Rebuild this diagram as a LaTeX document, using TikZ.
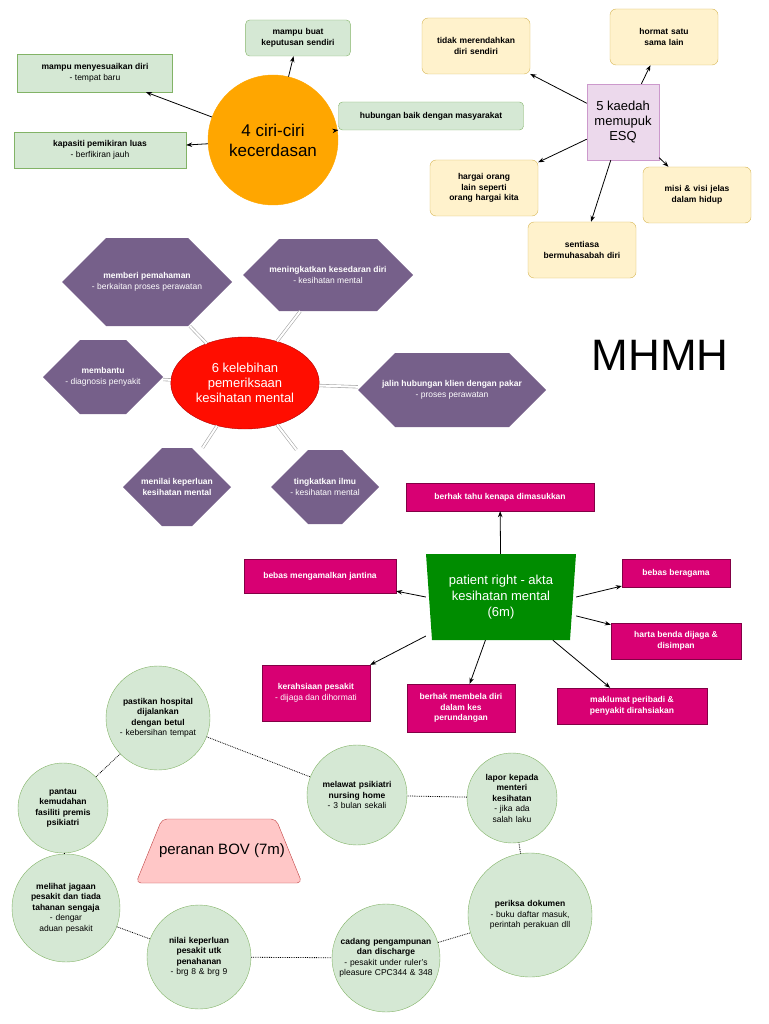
\documentclass[tikz,border=0pt]{standalone}
\usepackage{fontspec}
\setmainfont{Liberation Sans}
\usetikzlibrary{shapes.geometric,arrows.meta}
\definecolor{gf}{HTML}{D5E8D4}\definecolor{gd}{HTML}{82B366}
\definecolor{yf}{HTML}{FFF2CC}\definecolor{yd}{HTML}{D6B656}
\definecolor{hx}{HTML}{76608A}\definecolor{mg}{HTML}{D80073}
\begin{document}
\hyphenpenalty=10000 \exhyphenpenalty=10000
\begin{tikzpicture}[x=1pt,y=-1pt,
 t/.style={font=\fontsize{8.5}{10.5}\selectfont\bfseries,align=center},
 gbox/.style={t,draw=gd,fill=gf,minimum height=#1},
 ybox/.style={t,draw=yd,fill=yf,rounded corners=6pt,minimum width=108,minimum height=56,text width=88},
 mbox/.style={t,fill=mg,text=white,draw=mg!60!black},
 circ/.style={t,circle,draw=gd,fill=gf,inner sep=1pt},
 ar/.style={-{Stealth[length=6pt]},thick},
 dl/.style={double,double distance=2pt,draw=gray!70,line width=.6pt},
 dt/.style={densely dotted,thick}]
\useasboundingbox (0,0) rectangle (768,1024);
\newcommand\hexa[6]{%
 \fill[hx] ({#2-#4/2},#3) -- ({#2-#4/2+#5/2},{#3-#5/2}) -- ({#2+#4/2-#5/2},{#3-#5/2}) -- ({#2+#4/2},#3) -- ({#2+#4/2-#5/2},{#3+#5/2}) -- ({#2-#4/2+#5/2},{#3+#5/2}) -- cycle;
 \node[t,text=white,minimum width=#4,minimum height=#5] (#1) at (#2,#3) {#6};}
% ciri-ciri
\node[circle,fill=orange!70!yellow,draw=orange!70!yellow,minimum size=130,font=\fontsize{17}{20}\selectfont,align=center] (c) at (273,140) {4 ciri-ciri\\kecerdasan};
\node[gbox=36,text width=98,rounded corners=4pt] (g1) at (298,38) {mampu buat\\keputusan sendiri};
\node[gbox=38,minimum width=155] (g2) at (95,73) {mampu menyesuaikan diri\\{\mdseries - tempat baru}};
\node[gbox=36,minimum width=172] (g3) at (100,150) {kapasiti pemikiran luas\\{\mdseries - berfikiran jauh}};
\node[gbox=28,minimum width=185,rounded corners=4pt] (g4) at (431,116) {hubungan baik dengan masyarakat};
\foreach \n in {g1,g2,g3,g4} \draw[ar] (c) -- (\n);
% ESQ
\node[draw=violet!40,fill=violet!15,minimum width=72,minimum height=76,font=\fontsize{13}{15}\selectfont,align=center] (e) at (623,122) {5 kaedah\\memupuk\\ESQ};
\node[ybox] (y1) at (476,46) {tidak merendahkan diri sendiri};
\node[ybox] (y2) at (664,37) {hormat satu sama lain};
\node[ybox] (y3) at (484,188) {hargai orang lain seperti orang hargai kita};
\node[ybox] (y4) at (697,195) {misi \& visi jelas dalam hidup};
\node[ybox] (y5) at (582,250) {sentiasa bermuhasabah diri};
\foreach \n in {y1,y2,y3,y4,y5} \draw[ar] (e) -- (\n);
% kelebihan
\hexa{h1}{147}{282}{170}{88}{memberi pemahaman\\{\mdseries - berkaitan proses perawatan}}
\hexa{h2}{328}{275}{170}{72}{meningkatkan kesedaran diri\\{\mdseries - kesihatan mental}}
\hexa{h3}{103}{377}{120}{74}{membantu\\{\mdseries - diagnosis penyakit}}
\hexa{h4}{452}{390}{188}{74}{jalin hubungan klien dengan pakar\\{\mdseries - proses perawatan}}
\hexa{h5}{177}{487}{108}{78}{menilai keperluan\\kesihatan mental}
\hexa{h6}{325}{487}{108}{74}{tingkatkan ilmu\\{\mdseries - kesihatan mental}}
\node[ellipse,fill=red!90!orange,draw=red!70!black,minimum width=140,minimum height=92,text=white,font=\fontsize{13}{15}\selectfont,align=center] (k) at (245,383) {6 kelebihan\\pemeriksaan\\kesihatan mental};
\draw[dl] (k) -- (h1);
\draw[dl] (k) -- (h2);
\draw[dl] (k) -- (h3);
\draw[dl] (k) -- (h4);
\draw[dl] (k) -- (h5);
\draw[dl] (k) -- (h6);
\node[font=\fontsize{44}{50}\selectfont] (mh) at (660,355) {MHMH};
% patient right
\fill[green!55!black] (426,554) -- (576,554) -- (570,640) -- (432,640) -- cycle;
\node[minimum width=150,minimum height=86,text=white,font=\fontsize{13}{16}\selectfont,align=center] (p) at (501,597) {patient right - akta\\kesihatan mental\\(6m)};
\node[mbox,minimum width=188,minimum height=28] (m1) at (500,497) {berhak tahu kenapa dimasukkan};
\node[mbox,minimum width=152,minimum height=34] (m2) at (320,576) {bebas mengamalkan jantina};
\node[mbox,minimum width=108,minimum height=28] (m3) at (676,573) {bebas beragama};
\node[mbox,minimum width=130,minimum height=36] (m4) at (676,641) {harta benda dijaga \&\\disimpan};
\node[mbox,minimum width=108,minimum height=56] (m5) at (316,693) {kerahsiaan pesakit\\{\mdseries - dijaga dan dihormati}};
\node[mbox,minimum width=108,minimum height=48] (m6) at (461,708) {berhak membela diri\\dalam kes\\perundangan};
\node[mbox,minimum width=150,minimum height=36] (m7) at (632,706) {maklumat peribadi \&\\penyakit dirahsiakan};
\draw[ar] (p) -- (m1);
\draw[ar] (p.west) -- (m2);
\draw[ar] (p.east) -- (m3);
\draw[ar] (p) -- (m4);
\draw[ar] (p) -- (m5);
\draw[ar] (p) -- (m6);
\draw[ar] (p) -- (m7);
% BOV
\filldraw[fill=red!22,draw=red!50!gray,rounded corners=5pt] (162,819) -- (276,819) -- (302,883) -- (136,883) -- cycle;
\node[minimum width=160,minimum height=64,font=\fontsize{15}{18}\selectfont] (b) at (222,851) {peranan BOV (7m)};
\node[circ,minimum size=104,text width=86] (o1) at (158,718) {pastikan hospital dijalankan dengan betul\\{\mdseries - kebersihan tempat}};
\node[circ,minimum size=90,text width=66] (o2) at (63,808) {pantau kemudahan fasiliti premis psikiatri};
\node[circ,minimum size=108,text width=88] (o3) at (66,908) {melihat jagaan pesakit dan tiada tahanan sengaja\\{\mdseries - dengar aduan pesakit}};
\node[circ,minimum size=104,text width=80] (o4) at (199,957) {nilai keperluan pesakit utk penahanan\\{\mdseries - brg 8 \& brg 9}};
\node[circ,minimum size=108,text width=96] (o5) at (386,958) {cadang pengampunan dan discharge\\{\mdseries - pesakit under ruler's pleasure CPC344 \& 348}};
\node[circ,minimum size=124,text width=108] (o6) at (530,915) {periksa dokumen\\{\mdseries - buku daftar masuk, perintah perakuan dll}};
\node[circ,minimum size=90,text width=72] (o7) at (512,798) {lapor kepada menteri kesihatan\\{\mdseries - jika ada salah laku}};
\node[circ,minimum size=100,text width=90] (o8) at (357,795) {melawat psikiatri nursing home\\{\mdseries - 3 bulan sekali}};
\draw[dt] (o1) -- (o2); \draw[dt] (o1) -- (o8); \draw[dt] (o2) -- (o3);
\draw[dt] (o3) -- (o4); \draw[dt] (o4) -- (o5); \draw[dt] (o5) -- (o6);
\draw[dt] (o6) -- (o7); \draw[dt] (o7) -- (o8);
\end{tikzpicture}
\end{document}
